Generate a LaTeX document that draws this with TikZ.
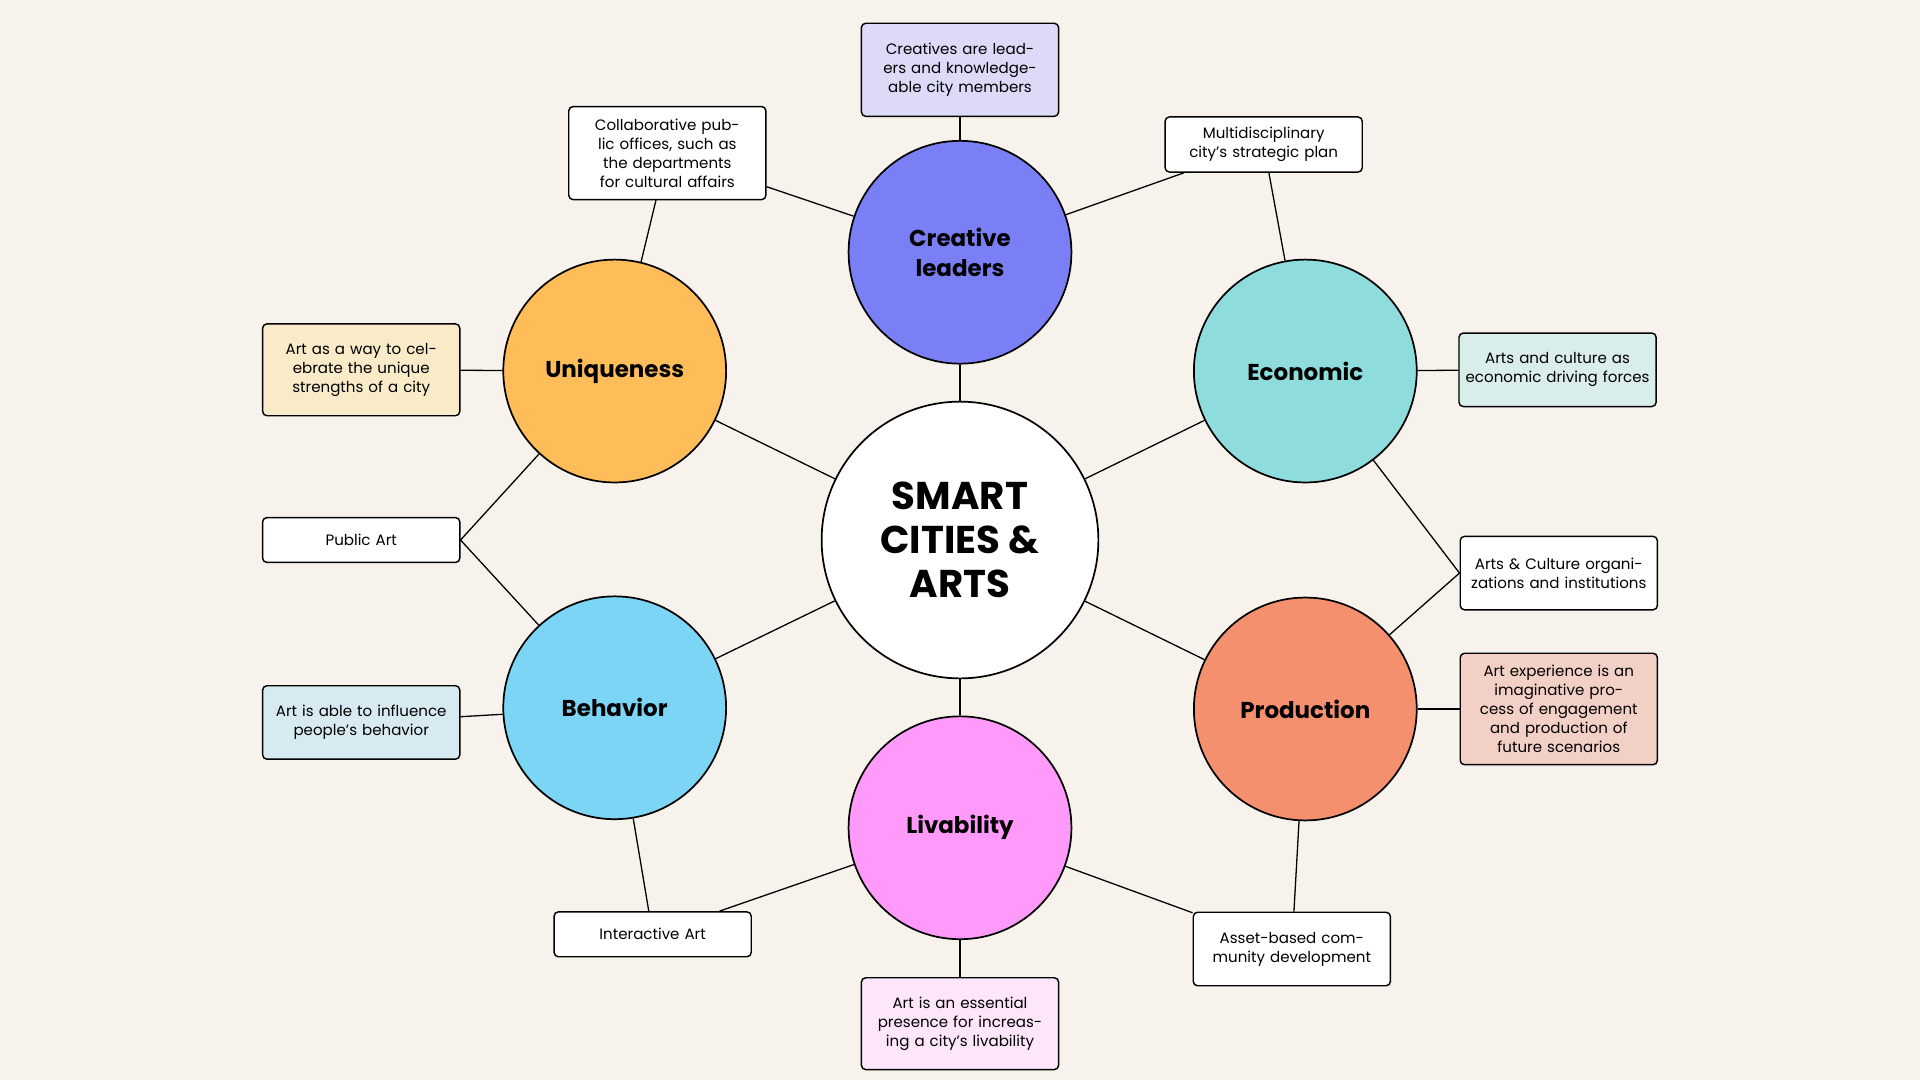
\documentclass[tikz,border=0pt]{standalone}
\usepackage{fontspec}
\setmainfont{Poppins}
\definecolor{bg}{HTML}{F7F3EC}
\definecolor{cCre}{HTML}{7B7FF5}
\definecolor{cUni}{HTML}{FFBD59}
\definecolor{cEco}{HTML}{8EDCDC}
\definecolor{cBeh}{HTML}{7DD5F5}
\definecolor{cPro}{HTML}{F5906F}
\definecolor{cLiv}{HTML}{FF99FA}
\definecolor{bCre}{HTML}{DCDAF7}
\definecolor{bUni}{HTML}{FAEBC8}
\definecolor{bEco}{HTML}{D9EDEA}
\definecolor{bBeh}{HTML}{D8EAF1}
\definecolor{bPro}{HTML}{F3D0C5}
\definecolor{bLiv}{HTML}{FDE6FB}
\tikzset{
 circ/.style={circle,draw=black,line width=1.2pt,minimum size=5.46cm,inner sep=0pt,align=center,font=\fontsize{16}{20.5}\selectfont\bfseries},
 box/.style={rectangle,rounded corners=3pt,draw=black,line width=1pt,fill=white,minimum width=4.83cm,minimum height=1.1cm,text width=4.6cm,align=center,inner sep=3pt,font=\fontsize{10.5}{13.2}\selectfont},
 con/.style={line width=0.9pt,black}
}
\begin{document}
\begin{tikzpicture}[x=0.03cm,y=-0.03cm]
\fill[bg] (0,0) rectangle (1568,882);
\useasboundingbox (0,0) rectangle (1568,882);
\node[circ,fill=white,minimum size=6.78cm,font=\fontsize{27}{30.6}\selectfont\bfseries] (c) at (784,441) {SMART\\CITIES \&\\ARTS};
\node[circ,fill=cCre] (cre) at (784,206) {Creative\\leaders};
\node[circ,fill=cUni] (uni) at (502,303) {Uniqueness};
\node[circ,fill=cEco] (eco) at (1066,303) {Economic};
\node[circ,fill=cBeh] (beh) at (502,578) {Behavior};
\node[circ,fill=cPro] (pro) at (1066,579) {Production};
\node[circ,fill=cLiv] (liv) at (784,676) {Livability};

\node[box,fill=bCre,minimum height=2.28cm] (b1) at (784,57) {Creatives are leaders and knowledgeable city members};
\node[box,minimum height=2.28cm] (b2) at (545,125) {Collaborative public offices, such as the departments for cultural affairs};
\node[box,minimum height=1.35cm] (b3) at (1032,118) {Multidisciplinary city's strategic plan};
\node[box,fill=bUni,minimum height=2.25cm] (b4) at (295,302) {Art as a way to celebrate the unique strengths of a city};
\node[box,fill=bEco,minimum height=1.8cm] (b5) at (1272,302) {Arts and culture as economic driving forces};
\node[box] (b6) at (295,441) {Public Art};
\node[box,minimum height=1.8cm] (b7) at (1273,468) {Arts \& Culture organizations and institutions};
\node[box,fill=bBeh,minimum height=1.8cm] (b8) at (295,590) {Art is able to influence people's behavior};
\node[box,fill=bPro,minimum height=2.73cm] (b9) at (1273,579) {Art experience is an imaginative process of engagement and production of future scenarios};
\node[box] (b10) at (533,763) {Interactive Art};
\node[box,minimum height=1.8cm] (b11) at (1055,775) {Asset-based community development};
\node[box,fill=bLiv,minimum height=2.25cm] (b12) at (784,836) {Art is an essential presence for increasing a city's livability};

\foreach \a/\b in {c/cre,c/uni,c/eco,c/beh,c/pro,c/liv,cre/b1,cre/b2,cre/b3,uni/b2,uni/b4,eco/b3,eco/b5,pro/b9,pro/b11,liv/b11,liv/b10,liv/b12,beh/b10,beh/b8}
  \draw[con] (\a) -- (\b);
\draw[con] (uni) -- (b6.east) -- (beh);
\draw[con] (eco) -- (b7.west) -- (pro);
\end{tikzpicture}
\end{document}
